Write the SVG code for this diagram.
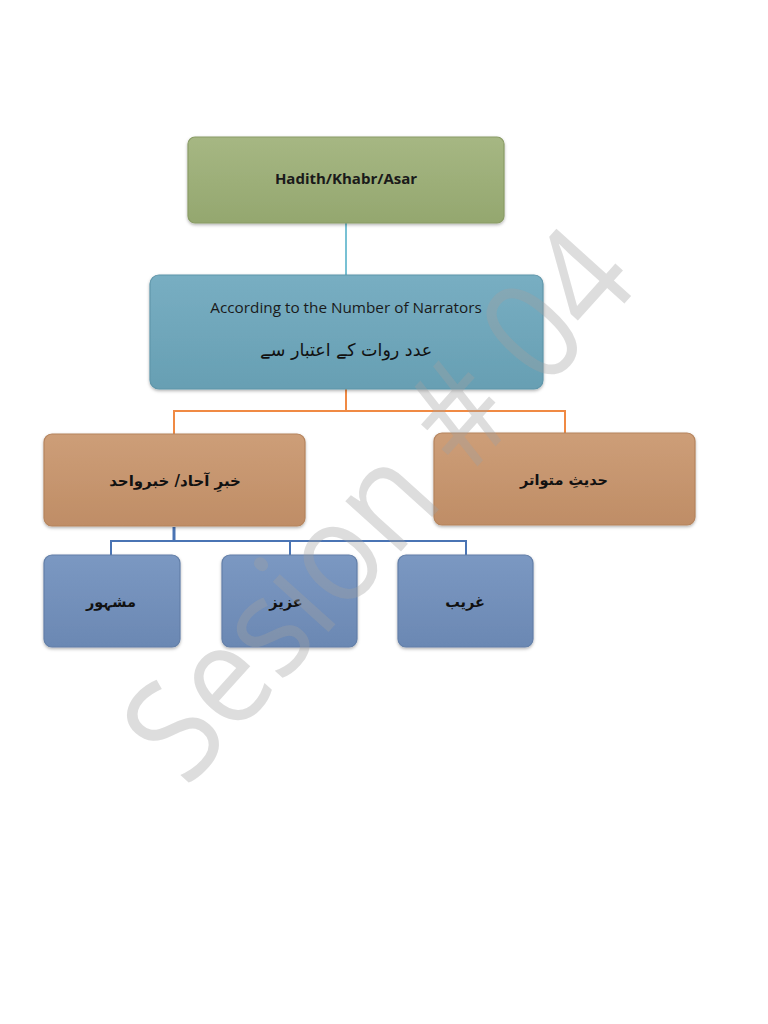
<svg xmlns="http://www.w3.org/2000/svg" width="768" height="1024" viewBox="0 0 768 1024">
  <defs>
    <linearGradient id="gGreen" x1="0" y1="0" x2="0" y2="1">
      <stop offset="0" stop-color="#a6b783"/>
      <stop offset="1" stop-color="#94a76f"/>
    </linearGradient>
    <linearGradient id="gTeal" x1="0" y1="0" x2="0" y2="1">
      <stop offset="0" stop-color="#78aec2"/>
      <stop offset="1" stop-color="#679fb3"/>
    </linearGradient>
    <linearGradient id="gOrange" x1="0" y1="0" x2="0" y2="1">
      <stop offset="0" stop-color="#cd9e78"/>
      <stop offset="1" stop-color="#bf8d66"/>
    </linearGradient>
    <linearGradient id="gBlue" x1="0" y1="0" x2="0" y2="1">
      <stop offset="0" stop-color="#7b98c2"/>
      <stop offset="1" stop-color="#6b88b3"/>
    </linearGradient>
    <filter id="shadow" x="-10%" y="-10%" width="120%" height="130%">
      <feDropShadow dx="0" dy="1.5" stdDeviation="1.5" flood-color="#000" flood-opacity="0.3"/>
    </filter>
  </defs>
  <style>
    .box { filter: url(#shadow); stroke-width: 1.2; }
    .green { fill: url(#gGreen); stroke: #8a9c66; }
    .teal { fill: url(#gTeal); stroke: #5f96aa; }
    .orange { fill: url(#gOrange); stroke: #b5845d; }
    .blue { fill: url(#gBlue); stroke: #637fa8; }
    .en { font-family: "Open Sans", "Liberation Sans", sans-serif; fill: #1a1a1a; text-anchor: middle; }
    .ur { font-family: "DejaVu Sans", "Liberation Serif", serif; fill: #111; text-anchor: middle; }
    .conn { fill: none; stroke-linejoin: miter; }
    .wm { font-family: "Open Sans", "Liberation Sans", sans-serif; font-size: 140px; font-weight: 500; fill: #a0a0a0; fill-opacity: 0.36; text-anchor: middle; }
  </style>
  <rect width="768" height="1024" fill="#ffffff"/>

  <g id="connectors">
    <path class="conn" d="M346 223 V275" stroke="#4bacc6" stroke-width="1.5"/>
    <path class="conn" d="M346 389 V411 M174 435 V411 H565 V434" stroke="#f08a44" stroke-width="2"/>
    <path class="conn" d="M174 527 V541" stroke="#4a74b4" stroke-width="3"/>
    <path class="conn" d="M111 555 V541 H466 V555 M290 541 V555" stroke="#4a74b4" stroke-width="2"/>
  </g>

  <g id="node-hadith">
    <rect class="box green" x="188" y="137" width="316" height="86" rx="7"/>
    <text class="en" x="346" y="184" font-size="15" font-weight="bold">Hadith/Khabr/Asar</text>
  </g>

  <g id="node-narrators">
    <rect class="box teal" x="150" y="275" width="393" height="114" rx="9"/>
    <text class="en" x="346" y="313" font-size="15.3">According to the Number of Narrators</text>
    <text class="ur" x="346" y="356" font-size="17.5" direction="rtl">عدد روات کے اعتبار سے</text>
  </g>

  <g id="node-ahad">
    <rect class="box orange" x="44" y="434" width="261" height="92" rx="8"/>
    <text class="ur" x="175" y="486" font-size="15" font-weight="bold" direction="rtl">خبرِ آحاد/ خبرواحد</text>
  </g>

  <g id="node-mutawatir">
    <rect class="box orange" x="434" y="433" width="261" height="92" rx="8"/>
    <text class="ur" x="564" y="485" font-size="14.5" font-weight="bold" direction="rtl">حدیثِ متواتر</text>
  </g>

  <g id="node-mashhur">
    <rect class="box blue" x="44" y="555" width="136" height="92" rx="8"/>
    <text class="ur" x="111" y="607" font-size="14.5" font-weight="bold" direction="rtl">مشہور</text>
  </g>

  <g id="node-aziz">
    <rect class="box blue" x="222" y="555" width="135" height="92" rx="8"/>
    <text class="ur" x="286" y="607" font-size="14.5" font-weight="bold" direction="rtl">عزیز</text>
  </g>

  <g id="node-gharib">
    <rect class="box blue" x="398" y="555" width="135" height="92" rx="8"/>
    <text class="ur" x="465" y="607" font-size="14.5" font-weight="bold" direction="rtl">غریب</text>
  </g>

  <text class="wm" transform="translate(380,506) rotate(-48)" x="0" y="46" textLength="680" lengthAdjust="spacingAndGlyphs">Sesion # 04</text>
</svg>
